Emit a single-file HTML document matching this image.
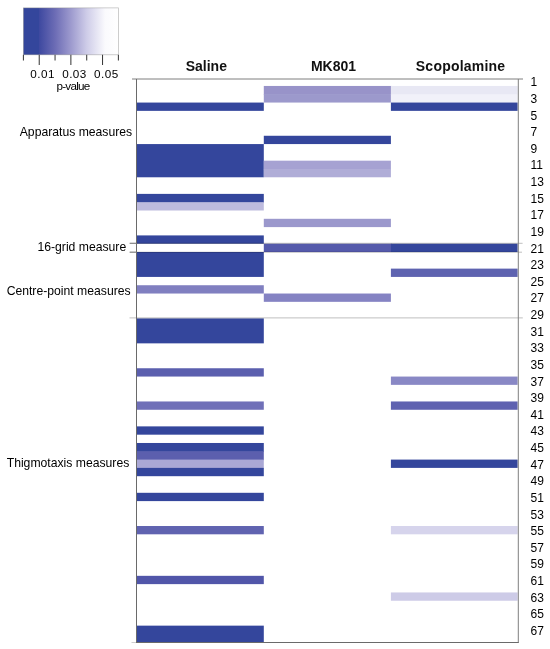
<!DOCTYPE html>
<html><head><meta charset="utf-8"><title>p-value heatmap</title>
<style>
html,body{margin:0;padding:0;background:#fff;}
body{width:550px;height:649px;overflow:hidden;font-family:"Liberation Sans",Arial,sans-serif;}
svg{display:block}
text{font-family:"Liberation Sans",Arial,sans-serif;fill:#000}
.h{font-weight:bold;font-size:14px;text-anchor:middle;fill:#111}
.l{font-size:12.2px;text-anchor:end}
.n{font-size:12px}
.k{font-size:11.7px;text-anchor:middle}
</style></head><body>
<svg width="550" height="649" viewBox="0 0 550 649">
<defs><linearGradient id="g" x1="0" x2="1" y1="0" y2="0">
<stop offset="0" stop-color="#34469c"/><stop offset="0.164" stop-color="#34469c"/><stop offset="0.166" stop-color="#3e49a0"/>
<stop offset="0.333" stop-color="#6c6cb5"/><stop offset="0.5" stop-color="#9d9ace"/><stop offset="0.666" stop-color="#cecce8"/><stop offset="0.86" stop-color="#fafafd"/><stop offset="1" stop-color="#ffffff"/></linearGradient></defs>
<rect width="550" height="649" fill="#fff"/>

<rect x="23.4" y="7.9" width="95" height="46.9" fill="url(#g)"/>
<rect x="23.4" y="7.9" width="95" height="46.9" stroke="#8a8a8a" stroke-opacity="0.6" stroke-width="0.7" fill="none"/>
<g stroke="#333" stroke-width="1" fill="none">
<path d="M23.40 54.8V60.5"/>
<path d="M39.23 54.8V65"/>
<path d="M55.06 54.8V60.5"/>
<path d="M70.89 54.8V65"/>
<path d="M86.72 54.8V60.5"/>
<path d="M102.55 54.8V65"/>
<path d="M118.38 54.8V60.5"/>
</g>
<text class="k" x="42.6" y="78" letter-spacing="0.45">0.01</text>
<text class="k" x="74.5" y="78" letter-spacing="0.45">0.03</text>
<text class="k" x="106.4" y="78" letter-spacing="0.45">0.05</text>
<text class="k" x="73" y="90.4" font-size="12.9" letter-spacing="-0.75">p-value</text>
<rect x="137.0" y="102.56" width="126.8" height="8.30" fill="#34469c"/>
<rect x="137.0" y="144.07" width="126.8" height="33.21" fill="#34469c"/>
<rect x="137.0" y="193.89" width="126.8" height="8.90" fill="#34469c"/>
<rect x="137.0" y="202.20" width="126.8" height="8.30" fill="#bebbde"/>
<rect x="137.0" y="235.41" width="126.8" height="8.30" fill="#34469c"/>
<rect x="137.0" y="252.01" width="126.8" height="24.91" fill="#34469c"/>
<rect x="137.0" y="285.23" width="126.8" height="8.30" fill="#807fc0"/>
<rect x="137.0" y="318.44" width="126.8" height="24.91" fill="#34469c"/>
<rect x="137.0" y="368.25" width="126.8" height="8.30" fill="#5b5fae"/>
<rect x="137.0" y="401.47" width="126.8" height="8.30" fill="#7070b8"/>
<rect x="137.0" y="426.38" width="126.8" height="8.30" fill="#34469c"/>
<rect x="137.0" y="442.98" width="126.8" height="8.90" fill="#34469c"/>
<rect x="137.0" y="451.29" width="126.8" height="8.90" fill="#5c5fae"/>
<rect x="137.0" y="459.59" width="126.8" height="8.90" fill="#aaa8d5"/>
<rect x="137.0" y="467.89" width="126.8" height="8.30" fill="#34469c"/>
<rect x="137.0" y="492.80" width="126.8" height="8.30" fill="#34469c"/>
<rect x="137.0" y="526.01" width="126.8" height="8.30" fill="#6063b0"/>
<rect x="137.0" y="575.83" width="126.8" height="8.30" fill="#5156a9"/>
<rect x="137.0" y="625.65" width="126.8" height="16.61" fill="#34469c"/>
<rect x="263.8" y="85.95" width="127.7" height="8.90" fill="#9893c9"/>
<rect x="263.8" y="94.26" width="127.7" height="8.30" fill="#9c99cc"/>
<rect x="263.8" y="135.77" width="127.1" height="8.30" fill="#34469c"/>
<rect x="263.8" y="160.68" width="127.1" height="8.90" fill="#a6a2d2"/>
<rect x="263.8" y="168.98" width="127.1" height="8.30" fill="#b0add7"/>
<rect x="263.8" y="218.80" width="127.1" height="8.30" fill="#9b98cc"/>
<rect x="263.8" y="243.71" width="127.7" height="8.30" fill="#555aab"/>
<rect x="263.8" y="293.53" width="127.1" height="8.30" fill="#8583c3"/>
<rect x="390.9" y="85.95" width="126.7" height="8.90" fill="#e8e8f4"/>
<rect x="390.9" y="94.26" width="126.7" height="8.90" fill="#f1f1f9"/>
<rect x="390.9" y="102.56" width="126.7" height="8.30" fill="#34469c"/>
<rect x="390.9" y="243.71" width="126.7" height="8.30" fill="#34469c"/>
<rect x="390.9" y="268.62" width="126.7" height="8.30" fill="#5e63b0"/>
<rect x="390.9" y="376.56" width="126.7" height="8.30" fill="#8988c5"/>
<rect x="390.9" y="401.47" width="126.7" height="8.30" fill="#5f62b0"/>
<rect x="390.9" y="459.59" width="126.7" height="8.30" fill="#34469c"/>
<rect x="390.9" y="526.01" width="126.7" height="8.30" fill="#d6d4ec"/>
<rect x="390.9" y="592.44" width="126.7" height="8.30" fill="#cdcbe7"/>
<path d="M129.5 243.3H522.6M129.5 252.2H522M129.5 317.9H522.8" stroke="#000" stroke-opacity="0.25" stroke-width="1" fill="none"/>
<g stroke="#7f7f7f" stroke-width="1" fill="none">
<path d="M132 79H523"/>
<path d="M136.5 79V642.5" stroke="#6a6a6a"/>
<path d="M518.3 79V642.5"/>
<path d="M136 642.5H518.8" stroke="#6a6a6a"/>
<path d="M131.5 642.5H136" stroke="#cfcfcf"/>
<path d="M129.8 243.3H136.5M129.8 252.2H136.5"/>
</g>
<text class="h" x="206.3" y="71">Saline</text>
<text class="h" x="333.5" y="71">MK801</text>
<text class="h" x="460.6" y="71" font-size="14.2" letter-spacing="0.22">Scopolamine</text>
<text class="l" x="132.2" y="135.7" font-size="12.3">Apparatus measures</text>
<text class="l" x="126.2" y="251">16-grid measure</text>
<text class="l" x="130.6" y="295.4">Centre-point measures</text>
<text class="l" x="129.3" y="467">Thigmotaxis measures</text>
<text class="n" x="530.5" y="86.35">1</text>
<text class="n" x="530.5" y="102.97">3</text>
<text class="n" x="530.5" y="119.59">5</text>
<text class="n" x="530.5" y="136.22">7</text>
<text class="n" x="530.5" y="152.84">9</text>
<text class="n" x="530.5" y="169.46">11</text>
<text class="n" x="530.5" y="186.08">13</text>
<text class="n" x="530.5" y="202.70">15</text>
<text class="n" x="530.5" y="219.33">17</text>
<text class="n" x="530.5" y="235.95">19</text>
<text class="n" x="530.5" y="252.57">21</text>
<text class="n" x="530.5" y="269.19">23</text>
<text class="n" x="530.5" y="285.81">25</text>
<text class="n" x="530.5" y="302.44">27</text>
<text class="n" x="530.5" y="319.06">29</text>
<text class="n" x="530.5" y="335.68">31</text>
<text class="n" x="530.5" y="352.30">33</text>
<text class="n" x="530.5" y="368.92">35</text>
<text class="n" x="530.5" y="385.55">37</text>
<text class="n" x="530.5" y="402.17">39</text>
<text class="n" x="530.5" y="418.79">41</text>
<text class="n" x="530.5" y="435.41">43</text>
<text class="n" x="530.5" y="452.03">45</text>
<text class="n" x="530.5" y="468.66">47</text>
<text class="n" x="530.5" y="485.28">49</text>
<text class="n" x="530.5" y="501.90">51</text>
<text class="n" x="530.5" y="518.52">53</text>
<text class="n" x="530.5" y="535.14">55</text>
<text class="n" x="530.5" y="551.77">57</text>
<text class="n" x="530.5" y="568.39">59</text>
<text class="n" x="530.5" y="585.01">61</text>
<text class="n" x="530.5" y="601.63">63</text>
<text class="n" x="530.5" y="618.25">65</text>
<text class="n" x="530.5" y="634.88">67</text>
</svg></body></html>
